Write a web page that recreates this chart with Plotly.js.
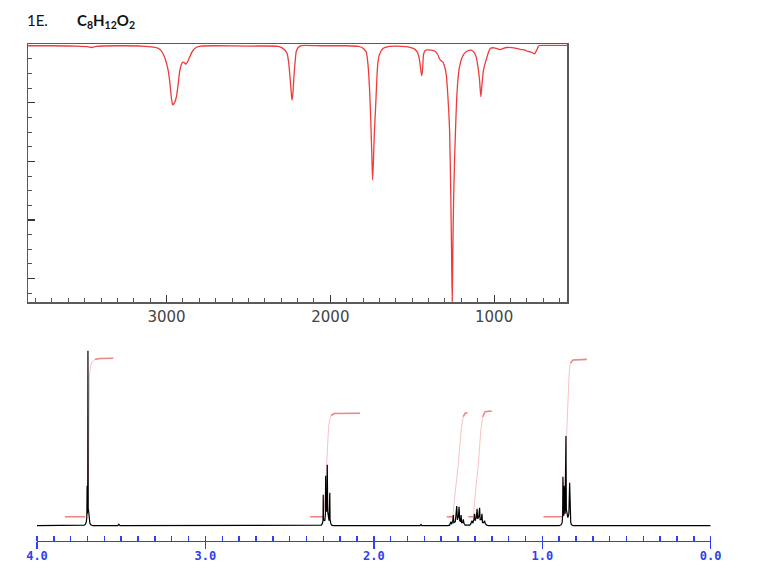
<!DOCTYPE html>
<html>
<head>
<meta charset="utf-8">
<script src="https://cdn.plot.ly/plotly-3.0.1.min.js"></script>
<style>html,body{margin:0;padding:0;background:#fff;}#chart{width:776px;height:582px;}</style>
</head>
<body>
<div id="chart"></div>
<script>
// ---------- IR spectrum (wavenumber, %T) ----------
const irWavenumber = [3846,3700,3550,3480,3457,3430,3300,3150,3080,3050,3030,3015,3000,2990,2980,2970,2962,2952,2940,2930,2919,2910,2902,2892,2882,2872,2858,2840,2817,2790,2700,2500,2320,2290,2265,2255,2245,2238,2234,2229,2222,2215,2207,2190,2167,2050,1900,1830,1811,1795,1780,1770,1760,1752,1746,1742,1737,1731,1724,1717,1710,1700,1679,1640,1598,1540,1510,1492,1475,1466,1455,1446,1441,1436,1431,1422,1410,1385,1364,1345,1333,1320,1313,1303,1293,1282,1272,1265,1260,1256,1252,1247,1242,1235,1228,1220,1211,1195,1180,1160,1140,1125,1110,1098,1089,1081,1073,1065,1055,1049,1035,1024,1000,963,940,923,880,850,835,815,805,785,765,754,742,730,724,650,555];
const irTransmittance = [99.5,99.5,99.4,99.2,98.9,99.3,99.5,99.4,99.0,98.6,97.6,96.0,93.5,91.0,87,81.5,79.3,80,82,86,91,93,93.9,93.8,93.2,94,95.8,97.8,99.0,99.4,99.5,99.4,99.3,98.6,97,94,88,83,81,83,89,94,97.8,99.2,99.6,99.5,99.5,99.3,99.0,98.4,97.2,93,84,72,61,53.7,60,70,78,87,93.5,96.5,98.6,99.3,99.4,99.2,98.9,98.6,97.8,97,94.5,90.5,89.3,92,96.5,97.8,98.1,98.0,97.7,96.6,95,94.2,94,92.5,90,82,70.8,50,30,12.2,30,48,59.5,72,82,88.5,92.4,95.6,97,97.8,98,97.4,95.8,92,87.8,82.1,87,91.2,93.5,94.6,97.2,98.6,98.8,98.2,98.7,98.9,98.8,98.4,98.2,98.1,97.8,97.5,97.1,96.7,97.8,99.2,99.6,99.6,99.6];
const irTickVals = [3000, 2000, 1000];
const irTickText = ['3000', '2000', '1000'];

// ---------- 1H NMR spectrum (ppm, intensity) ----------
const nmrPpm = [4.000,3.740,3.720,3.712,3.707,3.704,3.7025,3.7015,3.699,3.6975,3.696,3.693,3.690,3.686,3.680,3.670,3.520,3.514,3.508,
  2.330,2.312,2.306,2.302,2.3005,2.299,2.291,2.2875,2.286,2.284,2.279,2.2765,2.274,2.266,2.2615,2.260,2.255,2.250,2.240,
  1.725,1.720,1.715,
  1.560,1.550,1.545,1.542,1.539,1.532,1.528,1.525,1.516,1.512,1.508,1.504,1.498,1.494,1.490,1.485,1.482,1.479,1.473,1.469,1.465,1.458,1.450,
  1.430,1.424,1.417,1.413,1.406,1.402,1.399,1.392,1.387,1.384,1.377,1.372,1.369,1.362,1.358,1.355,1.348,1.343,1.338,1.330,1.320,
  0.900,0.888,0.882,0.879,0.8775,0.876,0.872,0.8705,0.8685,0.864,0.8595,0.857,0.848,0.842,0.8375,0.835,0.831,0.826,0.815,0.000];
const nmrIntensity = [0,0,0.5,1.5,4,9,40,12,16,175,17,14,7,2.5,0.8,0,0,1.5,0,
  0,0.5,2,5,31,6,5,12,50,14,16,61,14,5,33,6,2,0.5,0,
  0,1.2,0,
  0,0.5,3,4,1.5,4,10.7,3,4,14,19.7,6,9,19,5,4,10.7,3,3,6.4,2.5,0.6,0.5,
  0.5,2,5,2.5,6,12,5,8,17,7,9,18,6,6,12,3,3,5,2,0.5,0,
  0,0.8,3,10,49,12,10,40,14,12,89.7,16,8,12,43,10,3,1,0,0];

// ---------- integration curves (ppm, height) ----------
const int1Ppm = [3.834,3.715,3.709,3.697,3.693,3.690,3.688,3.682,3.673,3.656,3.626,3.547];
const int1Val = [9,9,10,15.7,75.7,135.7,150.7,159.7,163.7,166.2,167.2,167.4];
const int2Ppm = [2.379,2.302,2.293,2.284,2.275,2.269,2.263,2.254,2.236,2.082];
const int2Val = [9,9,20.7,55.7,85.7,97.7,105.7,110.2,112.2,112.4];
const int3Ppm = [1.567,1.531,1.522,1.498,1.482,1.469,1.458,1.445];
const int3Val = [9,9,25.7,62.4,95.7,109,112.4,113];
const int4Ppm = [1.439,1.409,1.399,1.379,1.365,1.353,1.340,1.300];
const int4Val = [9,9,29,62.4,95.7,109,114,114.7];
const int5Ppm = [0.993,0.878,0.873,0.862,0.853,0.847,0.841,0.833,0.817,0.736];
const int5Val = [9,9,15.7,55.7,95.7,125.7,150.7,162.7,165.7,166.3];
const nmrTickVals = [4, 3, 2, 1, 0];
const nmrTickText = ['4.0', '3.0', '2.0', '1.0', '0.0'];

const W = 776, H = 582;
const px = v => v / W;
const py = v => (H - v) / H;

const faint = {color: 'rgba(240,120,120,0.45)', width: 1};
const solid = {color: 'rgba(240,125,125,0.9)', width: 1.6};
const blue = '#3040ee';

const integrals = [[int1Ppm, int1Val], [int2Ppm, int2Val], [int3Ppm, int3Val], [int4Ppm, int4Val], [int5Ppm, int5Val]];
const traces = [
  {x: irWavenumber, y: irTransmittance, xaxis: 'x', yaxis: 'y', type: 'scatter', mode: 'lines',
   line: {color: '#ee3b3b', width: 1.3, shape: 'spline', smoothing: 0.6}, hoverinfo: 'skip'}
];
integrals.forEach(([xs, ys]) => {
  traces.push({x: xs, y: ys, xaxis: 'x2', yaxis: 'y2', mode: 'lines', line: faint, hoverinfo: 'skip'});
  traces.push({x: xs.slice(0, 2), y: ys.slice(0, 2), xaxis: 'x2', yaxis: 'y2', mode: 'lines', line: solid, hoverinfo: 'skip'});
  traces.push({x: xs.slice(-3), y: ys.slice(-3), xaxis: 'x2', yaxis: 'y2', mode: 'lines', line: solid, hoverinfo: 'skip'});
});
traces.push({x: nmrPpm, y: nmrIntensity, xaxis: 'x2', yaxis: 'y2', mode: 'lines',
   line: {color: '#000', width: 1.2}, hoverinfo: 'skip'});

const layout = {
  width: W, height: H, autosize: false,
  margin: {l: 0, r: 0, t: 0, b: 0},
  paper_bgcolor: '#fff', plot_bgcolor: '#fff',
  showlegend: false,
  xaxis: {
    domain: [px(28), px(567)], anchor: 'y', range: [3846, 555],
    showline: true, mirror: true, linecolor: '#5a5a5a', linewidth: 1.5,
    showgrid: false, zeroline: false,
    tickmode: 'array', tickvals: irTickVals, ticktext: irTickText,
    ticks: 'inside', ticklen: 7, tickwidth: 1.2, tickcolor: '#333',
    minor: {dtick: 100, tick0: 0, ticks: 'inside', ticklen: 4, tickwidth: 1, tickcolor: '#555', showgrid: false},
    tickfont: {family: 'DejaVu Sans', size: 15, color: '#444'}
  },
  yaxis: {
    domain: [py(302), py(44.3)], anchor: 'x', range: [12, 100],
    showline: true, mirror: true, linecolor: '#5a5a5a', linewidth: 1.5,
    showgrid: false, zeroline: false, showticklabels: false,
    tick0: 0, dtick: 20, ticks: 'inside', ticklen: 7, tickwidth: 1.2, tickcolor: '#333',
    minor: {dtick: 5, tick0: 0, ticks: 'inside', ticklen: 4, tickwidth: 1, tickcolor: '#555', showgrid: false}
  },
  xaxis2: {
    domain: [px(37), px(710.7)], anchor: 'y2', range: [4, 0],
    showline: true, linecolor: blue, linewidth: 1.6,
    showgrid: false, zeroline: false,
    tickmode: 'array', tickvals: nmrTickVals, ticktext: nmrTickText,
    ticks: 'outside', ticklen: 7, tickwidth: 1.5, tickcolor: blue, ticklabelstandoff: -4,
    minor: {dtick: 0.1, tick0: 0, ticks: 'inside', ticklen: 5, tickwidth: 1.5, tickcolor: blue, showgrid: false},
    tickfont: {family: 'DejaVu Sans Mono', size: 12, color: blue, weight: 'bold'}
  },
  xaxis3: {
    overlaying: 'x2', anchor: 'y2', side: 'bottom', range: [4, 0],
    showline: false, showgrid: false, zeroline: false, showticklabels: false,
    tickmode: 'array', tickvals: nmrTickVals,
    ticks: 'inside', ticklen: 6.5, tickwidth: 1.5, tickcolor: blue
  },
  yaxis2: {
    domain: [py(540.7), py(345)], anchor: 'x2', range: [-15, 180.7],
    visible: false, showgrid: false, zeroline: false
  },
  annotations: [
    {text: '1E.', xref: 'paper', yref: 'paper', x: px(25), y: py(20), xanchor: 'left', yanchor: 'middle',
     showarrow: false, font: {family: 'Lato', size: 15, color: '#111'}},
    {text: 'C<sub>8</sub>H<sub>12</sub>O<sub>2</sub>', xref: 'paper', yref: 'paper', x: px(75), y: py(21), xanchor: 'left', yanchor: 'middle',
     showarrow: false, font: {family: 'Lato', size: 15, color: '#111', weight: 'bold'}}
  ]
};

Plotly.newPlot('chart', traces, layout, {staticPlot: true, displayModeBar: false});
</script>
</body>
</html>
